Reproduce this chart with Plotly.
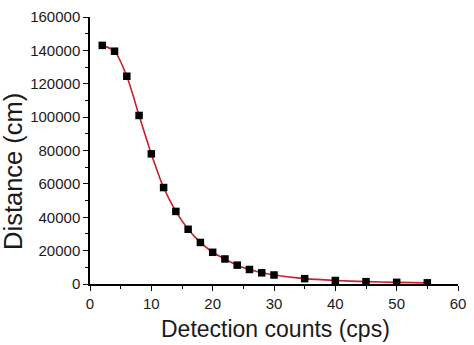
import plotly.graph_objects as go

counts = [2, 4, 6, 8, 10, 12, 14, 16, 18, 20, 22, 24, 26, 28, 30, 35, 40, 45, 50, 55]
distance = [143000, 139500, 124500, 101000, 78000, 57800, 43500, 32800, 24900, 19000,
            15000, 11300, 8700, 6700, 5400, 3200, 2100, 1400, 1000, 700]

x_ticks = [0, 10, 20, 30, 40, 50, 60]
y_ticks = [0, 20000, 40000, 60000, 80000, 100000, 120000, 140000, 160000]

FONT = "Arial, 'Liberation Sans', sans-serif"
TXT = "#1a1a1a"

fig = go.Figure()
fig.add_trace(go.Scatter(
    x=counts, y=distance, mode="lines",
    line=dict(color="#c8202a", width=1.6, shape="spline", smoothing=0.8),
    showlegend=False, hoverinfo="skip"))
fig.add_trace(go.Scatter(
    x=counts, y=distance, mode="markers",
    marker=dict(symbol="square", size=7.5, color="black"),
    showlegend=False))

axis_common = dict(
    showline=True, linecolor="black", linewidth=1.5,
    ticks="outside", ticklen=5, tickwidth=1.3, tickcolor="black",
    showgrid=False, zeroline=False, mirror=False,
    ticklabeloverflow="allow",
    tickfont=dict(family=FONT, size=15, color=TXT),
)

fig.update_xaxes(
    range=[0, 60], tickvals=x_ticks, ticktext=[str(v) for v in x_ticks],
    minor=dict(ticks="outside", ticklen=3, tickwidth=1.2, tickcolor="black", dtick=5, tick0=0),
    **axis_common)
fig.update_yaxes(
    range=[0, 160000], tickvals=y_ticks, ticktext=[str(v) for v in y_ticks],
    minor=dict(ticks="outside", ticklen=3, tickwidth=1.2, tickcolor="black", dtick=10000, tick0=0),
    **axis_common)

fig.add_annotation(
    text="Detection counts (cps)", xref="paper", yref="paper",
    x=0.503, y=-0.17, xanchor="center", yanchor="middle", showarrow=False,
    font=dict(family=FONT, size=23, color=TXT))
fig.add_annotation(
    text="Distance (cm)", xref="paper", yref="paper", textangle=-90,
    x=-0.209, y=0.42, xanchor="center", yanchor="middle", showarrow=False,
    font=dict(family=FONT, size=25.5, color=TXT))

fig.update_layout(
    width=474, height=345,
    margin=dict(l=90, r=11, t=8, b=61),
    paper_bgcolor="white", plot_bgcolor="white",
    font=dict(family=FONT, color=TXT),
)

fig.write_html("out.html")
